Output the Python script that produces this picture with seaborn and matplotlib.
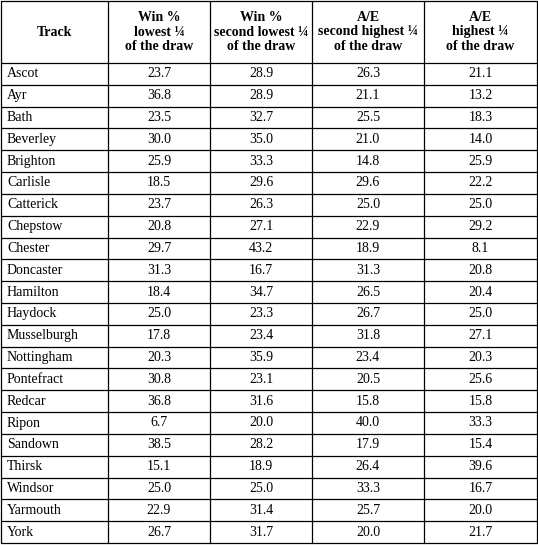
import matplotlib
matplotlib.use("Agg")
import matplotlib.pyplot as plt
import seaborn as sns

sns.set_theme(style="white")
plt.rcParams['font.family'] = ['Liberation Serif', 'DejaVu Serif']

headers = ["Track", "Win %\nlowest ¼\nof the draw", "Win %\nsecond lowest ¼\nof the draw",
           "A/E\nsecond highest ¼\nof the draw", "A/E\nhighest ¼\nof the draw"]
tracks = ["Ascot", "Ayr", "Bath", "Beverley", "Brighton", "Carlisle", "Catterick", "Chepstow",
          "Chester", "Doncaster", "Hamilton", "Haydock", "Musselburgh", "Nottingham", "Pontefract",
          "Redcar", "Ripon", "Sandown", "Thirsk", "Windsor", "Yarmouth", "York"]
win_lowest = [23.7, 36.8, 23.5, 30.0, 25.9, 18.5, 23.7, 20.8, 29.7, 31.3, 18.4, 25.0, 17.8,
              20.3, 30.8, 36.8, 6.7, 38.5, 15.1, 25.0, 22.9, 26.7]
win_second_lowest = [28.9, 28.9, 32.7, 35.0, 33.3, 29.6, 26.3, 27.1, 43.2, 16.7, 34.7, 23.3,
                     23.4, 35.9, 23.1, 31.6, 20.0, 28.2, 18.9, 25.0, 31.4, 31.7]
ae_second_highest = [26.3, 21.1, 25.5, 21.0, 14.8, 29.6, 25.0, 22.9, 18.9, 31.3, 26.5, 26.7,
                     31.8, 23.4, 20.5, 15.8, 40.0, 17.9, 26.4, 33.3, 25.7, 20.0]
ae_highest = [21.1, 13.2, 18.3, 14.0, 25.9, 22.2, 25.0, 29.2, 8.1, 20.8, 20.4, 25.0, 27.1,
              20.3, 25.6, 15.8, 33.3, 15.4, 39.6, 16.7, 20.0, 21.7]

W, H = 538, 545
fig = plt.figure(figsize=(W / 100, H / 100), dpi=100)
ax = fig.add_axes([0, 0, 1, 1])
ax.set_xlim(0, W)
ax.set_ylim(H, 0)
ax.axis("off")

col_edges = [1, 108, 210, 312, 424, 537]
header_h = 63
row_h = (H - 2 - header_h) / len(tracks)
row_edges = [1, header_h] + [header_h + row_h * (i + 1) for i in range(len(tracks))]

for y in row_edges:
    ax.plot([col_edges[0], col_edges[-1]], [y, y], color="black", lw=0.9)
for x in col_edges:
    ax.plot([x, x], [row_edges[0], row_edges[-1]], color="black", lw=0.9)

for j, h in enumerate(headers):
    cx = (col_edges[j] + col_edges[j + 1]) / 2
    ax.text(cx, (row_edges[0] + row_edges[1]) / 2, h, ha="center", va="center",
            fontsize=10, fontweight="bold", linespacing=1.15, color="black")

cols = [win_lowest, win_second_lowest, ae_second_highest, ae_highest]
for i, t in enumerate(tracks):
    cy = (row_edges[i + 1] + row_edges[i + 2]) / 2
    ax.text(col_edges[0] + 6, cy, t, ha="left", va="center", fontsize=10, color="black")
    for j, c in enumerate(cols):
        cx = (col_edges[j + 1] + col_edges[j + 2]) / 2
        ax.text(cx, cy, f"{c[i]:.1f}", ha="center", va="center", fontsize=10, color="black")

fig.savefig("out.png", dpi=100, facecolor="white")
